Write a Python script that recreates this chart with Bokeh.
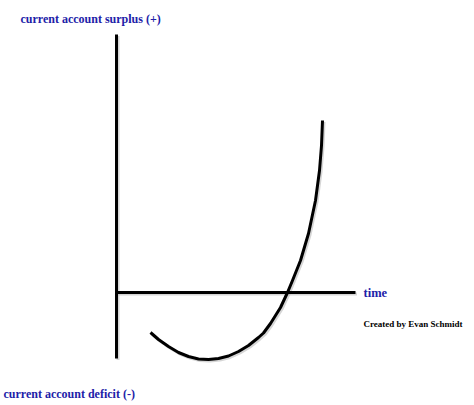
from bokeh.plotting import figure
from bokeh.models import Range1d, Label
from bokeh.embed import file_html
from bokeh.resources import INLINE

# J-curve: time since depreciation vs current account balance (arbitrary units)
time = [34, 42, 52, 62, 72, 82, 92, 102, 112, 122, 132, 142, 147,
        154, 164, 171, 176, 184, 192, 199, 203, 205, 206]
balance = [-40, -47, -54, -60, -64, -66.5, -67, -66, -63.5, -59, -53, -45, -40.5,
           -31, -15, 0, 12, 32, 59, 92, 122, 147, 172]

# axis extents
time_axis = [0, 239]
balance_axis = [-66, 258]

surplus_label = "current account surplus (+)"
deficit_label = "current account deficit (-)"
time_label = "time"
credit_label = "Created by Evan Schmidt"

BLUE = "#2121a8"
FONT = "Liberation Serif"

p = figure(width=474, height=405, output_backend="svg", toolbar_location=None,
           x_range=Range1d(-116, 358), y_range=Range1d(-113, 292),
           min_border=0, x_axis_type=None, y_axis_type=None)
p.grid.visible = False
p.outline_line_color = None
p.background_fill_color = "white"
p.border_fill_color = "white"

# soft shadows
sh = 1.5
p.line([t + sh for t in time], [b - sh for b in balance], line_width=3, line_color="#bbbbbb",
       line_alpha=0.6, line_join="round")
p.line([0 + sh, 0 + sh], [balance_axis[0] - sh, balance_axis[1] - sh], line_width=3, line_color="#bbbbbb", line_alpha=0.6)
p.line([time_axis[0] + sh, time_axis[1] + sh], [-sh, -sh], line_width=3, line_color="#bbbbbb", line_alpha=0.6)

# axes
p.line([0, 0], balance_axis, line_width=3, line_color="black")
p.line(time_axis, [0, 0], line_width=3, line_color="black")

# curve
p.line(time, balance, line_width=3, line_color="black", line_cap="butt", line_join="round")

def lab(text, x, y, size, color):
    p.add_layout(Label(x=x, y=y, text=text, text_font=FONT, text_font_style="bold",
                       text_font_size=size, text_color=color, text_baseline="alphabetic",
                       text_align="left"))

lab(surplus_label, -96, 274, "12px", BLUE)
lab(deficit_label, -113, -101, "12px", BLUE)
lab(time_label, 247, 0, "12.5px", BLUE)
lab(credit_label, 247, -31, "9px", "black")

open("out.html", "w").write(file_html(p, INLINE))
